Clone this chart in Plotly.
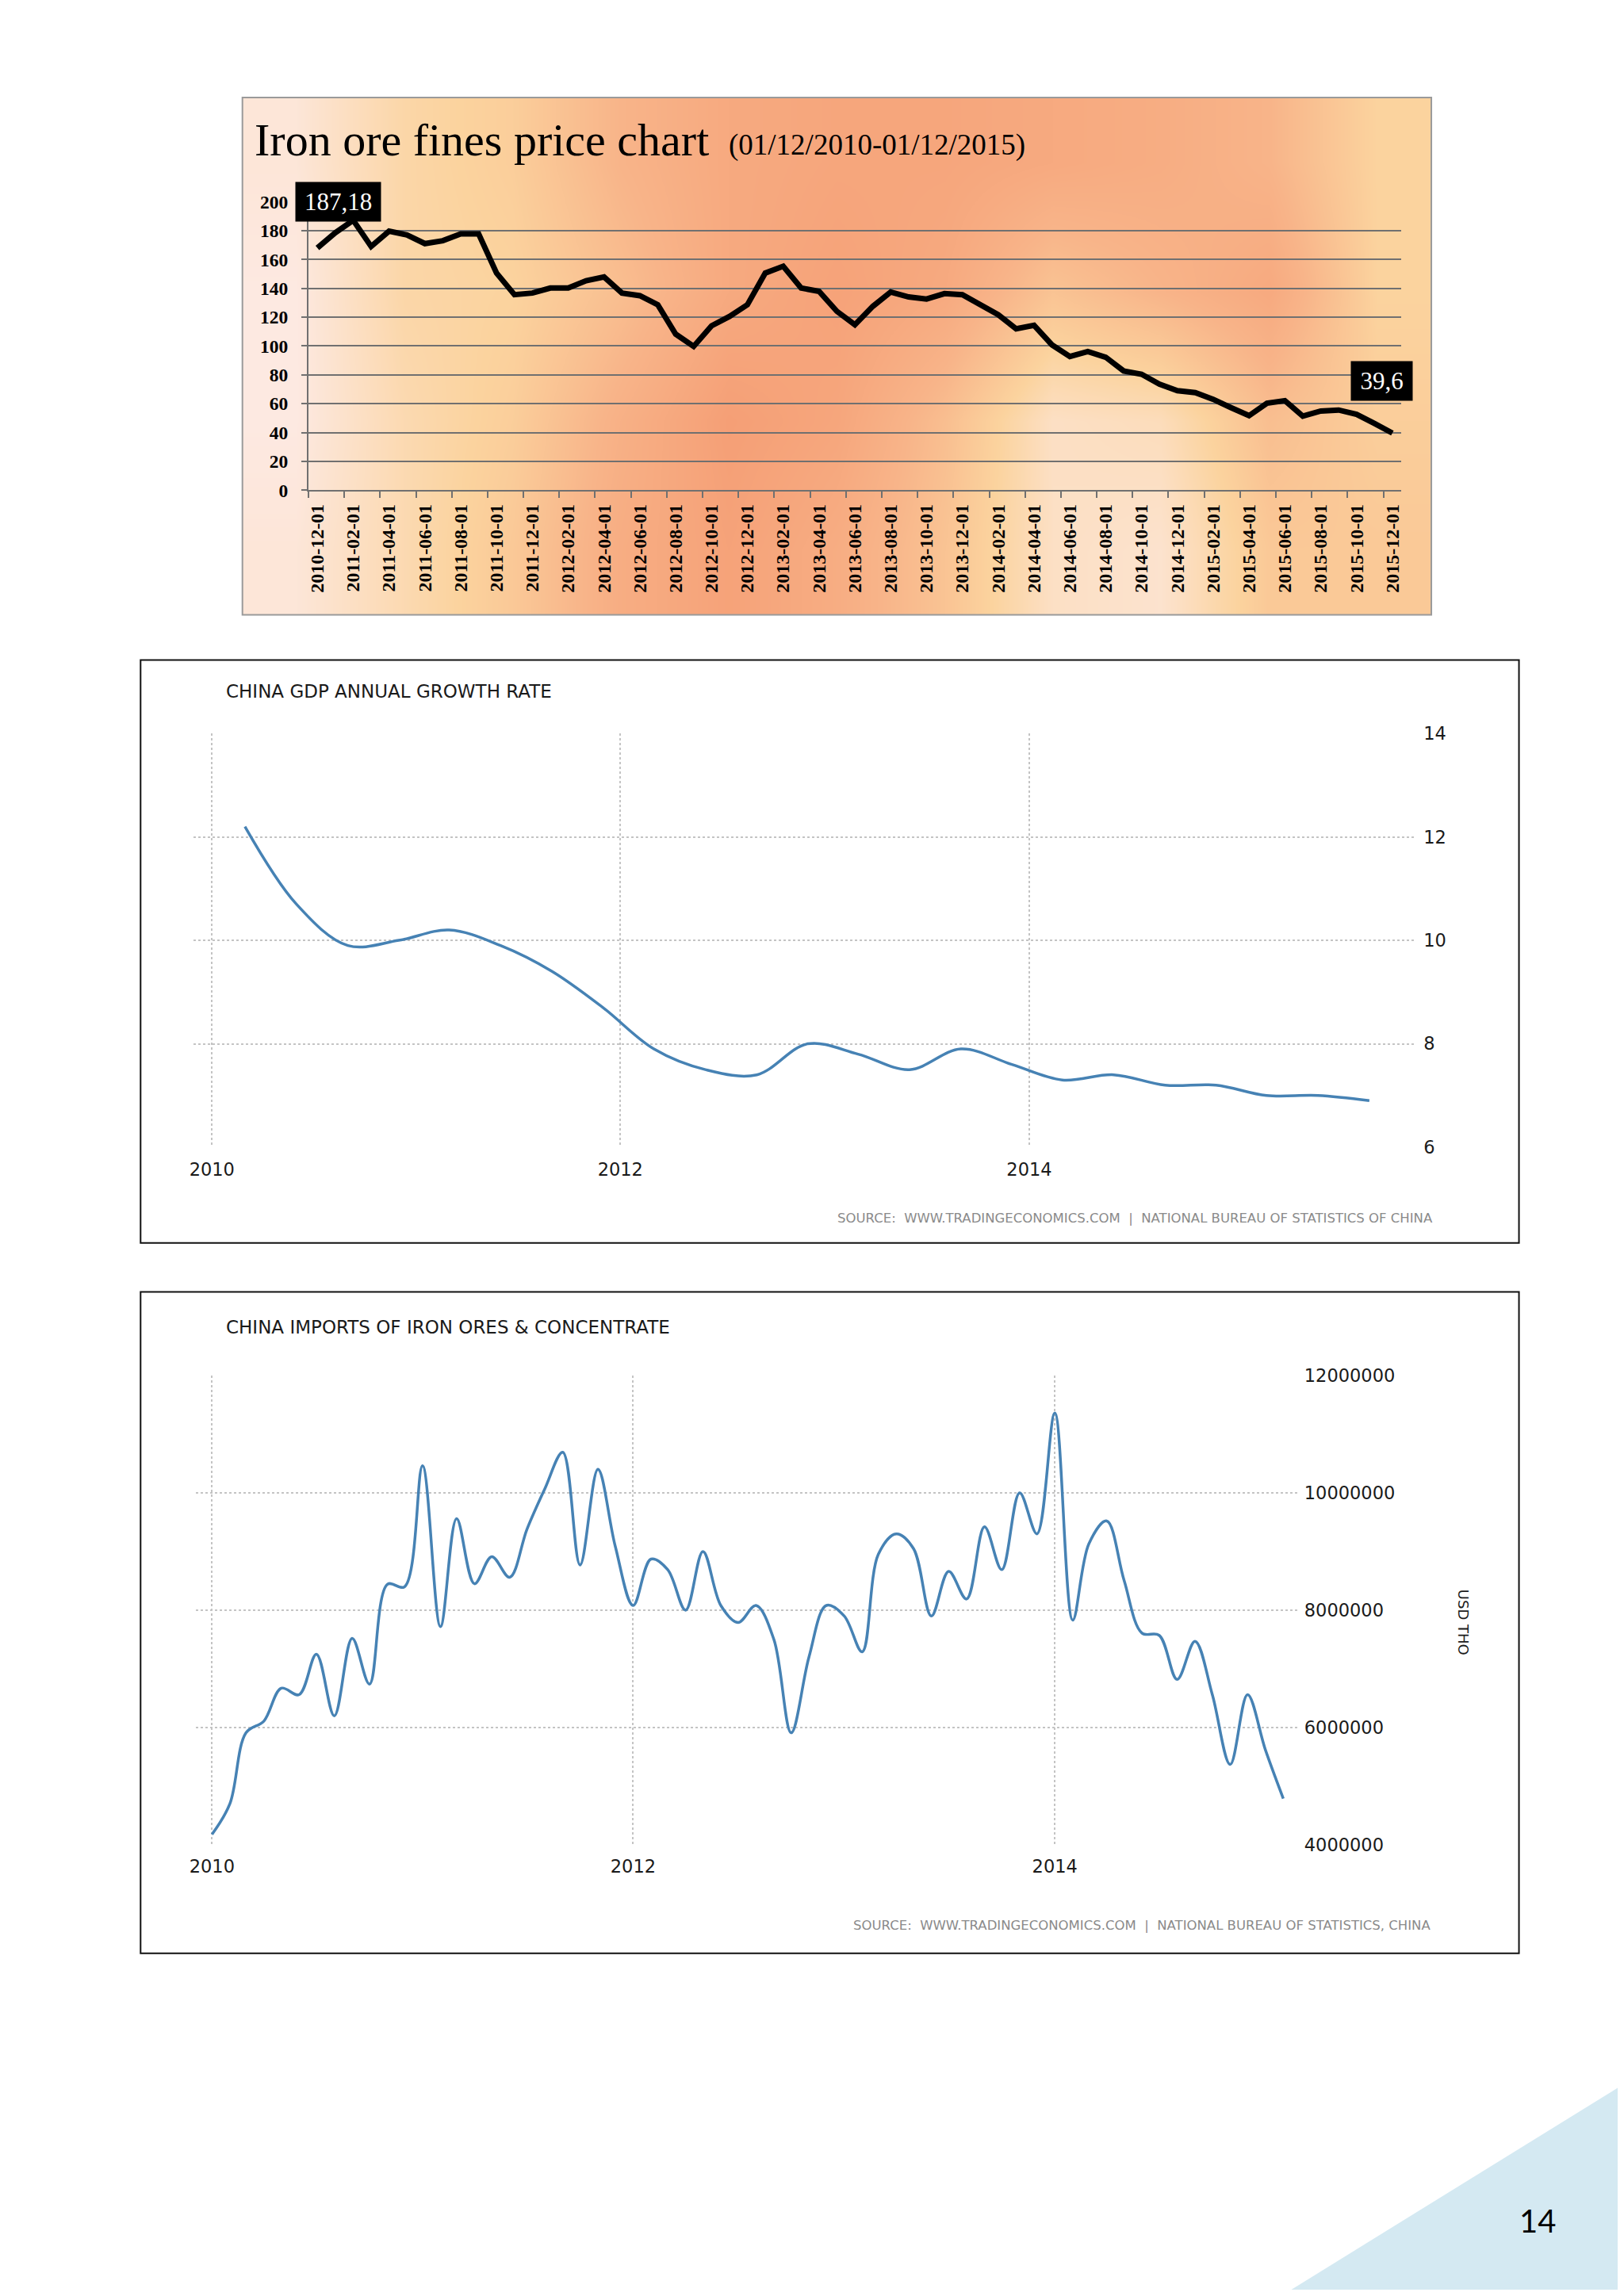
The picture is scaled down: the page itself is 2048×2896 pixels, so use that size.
import pandas as pd
import plotly.graph_objects as go

W, H = 2048, 2896
PAGE_PAD = 8  # default body margin of the page plotly writes
FIG_W, FIG_H = W - 2 * PAGE_PAD, H - 2 * PAGE_PAD
Y_SQUASH = 0.99323  # the photographed page comes out slightly squashed vertically

# --- data: iron ore fines price (monthly, USD/t) ---
ore_months = [d.strftime("%Y-%m-%d") for d in pd.date_range("2010-12-01", "2015-12-01", freq="MS")]
ore_price = [
    168, 178.5, 187.18, 169, 179.6, 177, 171, 173, 177.7, 177.7,
    150.6, 135.6, 136.7, 140.2, 140.2, 145.3, 147.9, 136.7, 134.9, 128.6,
    108.2, 99.7, 114, 120.5, 128.6, 150.6, 155.3, 140.2, 137.9, 124,
    114.7, 127.5, 137.4, 134, 132.6, 136.3, 135.6, 128.2, 121.7, 111.9,
    114.3, 100.8, 92.7, 96.2, 92.2, 82.7, 80.4, 73.5, 69, 67.7,
    63, 57.2, 51.7, 60.3, 62.1, 51.4, 54.9, 55.6, 52.6, 46.3, 39.6,
]
ore_max_label = "187,18"
ore_last_label = "39,6"

# --- data: China GDP annual growth rate (quarterly, %) ---
gdp_dates = pd.date_range("2010-03-01", "2015-09-01", freq="3MS")
gdp_rate = [12.2, 10.7, 9.9, 10.0, 10.2, 9.9, 9.4, 8.7, 7.9, 7.5, 7.4, 8.0,
            7.8, 7.5, 7.9, 7.6, 7.3, 7.4, 7.2, 7.2, 7.0, 7.0, 6.9]

# --- data: China imports of iron ores & concentrate (monthly, USD THO) ---
imp_dates = pd.date_range("2010-01-01", "2015-02-01", freq="MS")
imp_value = [
    4180000, 4700000, 5910000, 6110000, 6670000, 6560000, 7250000, 6200000, 7520000, 6740000,
    8440000, 8400000, 10460000, 7720000, 9560000, 8450000, 8910000, 8560000, 9380000, 10070000,
    10690000, 8770000, 10400000, 9090000, 8080000, 8870000, 8690000, 8000000, 9000000, 8080000,
    7790000, 8080000, 7500000, 5910000, 7210000, 8080000, 7900000, 7290000, 8950000, 9300000,
    9050000, 7900000, 8660000, 8190000, 9420000, 8690000, 10000000, 9300000, 11360000, 7830000,
    9130000, 9520000, 8510000, 7610000, 7570000, 6820000, 7470000, 6560000, 5370000, 6560000,
    5620000, 4790000,
]

year_ticks = ["2010-01-01", "2012-01-01", "2014-01-01"]
year_labels = ["2010", "2012", "2014"]


# page pixel -> paper fraction
def px(x):
    return (x - PAGE_PAD) / FIG_W


def py(y):
    y = H / 2 + (y - H / 2) / Y_SQUASH
    return 1 - (y - PAGE_PAD) / FIG_H


def py1(y):  # price chart block
    return py(y - 4)


def py3(y):  # imports chart block
    return py(y + 3)


SERIF = "Liberation Serif"
SANS = "DejaVu Sans"
BLUE = "#4682B4"
INK = "#1a1a1a"

# warm background wash behind the price chart (style only)
bg_scale = [[0, "#fdeceb"], [0.4, "#fbd39e"], [0.7, "#f8b489"], [1, "#f59f76"]]
bg_z = [
    [0.10, 0.35, 0.45, 0.70, 0.85, 0.90, 0.90, 0.85, 0.80, 0.70, 0.40],
    [0.05, 0.35, 0.40, 0.60, 0.85, 0.95, 0.85, 0.55, 0.70, 0.85, 0.40],
    [0.05, 0.30, 0.45, 0.75, 1.00, 0.90, 0.60, 0.20, 0.25, 0.60, 0.45],
    [0.10, 0.30, 0.50, 0.80, 0.95, 0.80, 0.55, 0.20, 0.15, 0.50, 0.50],
]

fig = go.Figure()

fig.add_trace(go.Heatmap(
    z=bg_z, colorscale=bg_scale, zmin=0, zmax=1, zsmooth="best",
    showscale=False, hoverinfo="skip", xaxis="x", yaxis="y",
))

# --- chart 1: iron ore price ---
fig.add_trace(go.Scatter(
    x=ore_months, y=ore_price, mode="lines",
    line=dict(color="black", width=7),
    xaxis="x2", yaxis="y2", showlegend=False,
))

# --- chart 2: GDP growth ---
fig.add_trace(go.Scatter(
    x=gdp_dates, y=gdp_rate, mode="lines",
    line=dict(color=BLUE, width=3.5, shape="spline"),
    xaxis="x3", yaxis="y3", showlegend=False,
))

# --- chart 3: imports ---
fig.add_trace(go.Scatter(
    x=imp_dates, y=imp_value, mode="lines",
    line=dict(color=BLUE, width=3.5, shape="spline"),
    xaxis="x4", yaxis="y4", showlegend=False,
))

dot_grid = dict(showgrid=True, gridcolor="#c4c4c4", gridwidth=1.5, griddash="dot",
                zeroline=False, showline=False, ticks="")
te_font = dict(family=SANS, size=22.5, color=INK)

fig.update_layout(
    width=FIG_W, height=FIG_H,
    margin=dict(l=0, r=0, t=0, b=0),
    paper_bgcolor="white",
    plot_bgcolor="rgba(0,0,0,0)",
    showlegend=False,
    xaxis=dict(domain=[px(299), px(1805)], visible=False, range=[-0.5, 10.5], fixedrange=True),
    yaxis=dict(domain=[py1(778), py1(124)], visible=False, range=[3.5, -0.5], fixedrange=True),
    xaxis2=dict(
        domain=[px(382.6), px(1767)], anchor="y2", type="category",
        range=[-0.5, 60.5], tickmode="linear", tick0=0, dtick=2,
        tickson="boundaries", ticks="outside", ticklen=8, tickwidth=2, tickcolor="#707070",
        showgrid=False, showline=True, linecolor="#707070", linewidth=2,
        tickangle=-90, ticklabelstandoff=6,
        tickfont=dict(family=SERIF, size=24, color="black", weight="bold"),
    ),
    yaxis2=dict(
        domain=[py1(620.4), py1(255.8)], anchor="x2", range=[0, 200], dtick=20,
        showgrid=True, gridcolor="#707070", gridwidth=2, zeroline=False,
        showline=True, linecolor="#707070", linewidth=2,
        ticks="outside", ticklen=7, tickwidth=2, tickcolor="#707070", ticklabelstandoff=12,
        tickfont=dict(family=SERIF, size=23.5, color="black", weight="bold"),
    ),
    xaxis3=dict(
        domain=[px(237), px(1786)], anchor="y3", type="date",
        range=["2009-11-29", "2015-11-24"], tickmode="array",
        tickvals=year_ticks, ticktext=year_labels, ticklabelstandoff=12,
        tickfont=te_font, **dot_grid,
    ),
    yaxis3=dict(
        domain=[py(1447), py(924)], anchor="x3", side="right", range=[6, 14], dtick=2,
        ticklabelstandoff=8, tickfont=te_font, **dot_grid,
    ),
    xaxis4=dict(
        domain=[px(240), px(1635)], anchor="y4", type="date",
        range=["2009-12-04", "2015-02-25"], tickmode="array",
        tickvals=year_ticks, ticktext=year_labels, ticklabelstandoff=12,
        tickfont=te_font, **dot_grid,
    ),
    yaxis4=dict(
        domain=[py3(2326), py3(1732.5)], anchor="x4", side="right",
        range=[4000000, 12000000], dtick=2000000, tickformat="d",
        ticklabelstandoff=8, tickfont=te_font, **dot_grid,
    ),
)

# frames and page decoration
fig.add_shape(type="rect", xref="paper", yref="paper",
              x0=px(299), x1=px(1805), y0=py1(778), y1=py1(124),
              line=dict(color="#9a9a9a", width=2))
fig.add_shape(type="rect", xref="paper", yref="paper",
              x0=px(170), x1=px(1916), y0=py(1568), y1=py(831),
              line=dict(color="#111", width=2))
fig.add_shape(type="rect", xref="paper", yref="paper",
              x0=px(170), x1=px(1916), y0=py3(2463), y1=py3(1627),
              line=dict(color="#111", width=2))
fig.add_shape(type="path", xref="paper", yref="paper",
              path=f"M {px(1620)} {py(2896)} L {px(2048)} {py(2632)} L {px(2048)} {py(2896)} Z",
              fillcolor="#d4e9f2", line=dict(width=0), layer="below")

# chart 1 texts
fig.add_annotation(xref="paper", yref="paper", x=px(312), y=py1(212),
                   xanchor="left", yanchor="bottom", showarrow=False,
                   text="Iron ore fines price chart",
                   font=dict(family=SERIF, size=58, color="black"))
fig.add_annotation(xref="paper", yref="paper", x=px(913), y=py1(207),
                   xanchor="left", yanchor="bottom", showarrow=False,
                   text="(01/12/2010-01/12/2015)",
                   font=dict(family=SERIF, size=37, color="black"))
fig.add_annotation(xref="x2", yref="y2", x=ore_months[2], y=ore_price[2],
                   text=ore_max_label, showarrow=False, xanchor="center", yanchor="bottom",
                   xshift=-19, yshift=-2.5, bgcolor="black", borderpad=6, width=95, height=37,
                   font=dict(family=SERIF, size=31, color="white"))
fig.add_annotation(xref="x2", yref="y2", x=ore_months[-1], y=ore_price[-1],
                   text=ore_last_label, showarrow=False, xanchor="center", yanchor="bottom",
                   xshift=-13.5, yshift=40, bgcolor="black", borderpad=6, width=65, height=37,
                   font=dict(family=SERIF, size=31, color="white"))

# charts 2 and 3 texts
fig.add_annotation(xref="paper", yref="paper", x=px(276), y=py(871),
                   xanchor="left", yanchor="middle", showarrow=False,
                   text="CHINA GDP ANNUAL GROWTH RATE",
                   font=dict(family=SANS, size=23, color=INK))
fig.add_annotation(xref="paper", yref="paper", x=px(1809), y=py(1537),
                   xanchor="right", yanchor="middle", showarrow=False,
                   text="SOURCE:  WWW.TRADINGECONOMICS.COM  |  NATIONAL BUREAU OF STATISTICS OF CHINA",
                   font=dict(family=SANS, size=16.5, color="#8a8a8a"))
fig.add_annotation(xref="paper", yref="paper", x=px(276), y=py3(1672),
                   xanchor="left", yanchor="middle", showarrow=False,
                   text="CHINA IMPORTS OF IRON ORES &amp; CONCENTRATE",
                   font=dict(family=SANS, size=23, color=INK))
fig.add_annotation(xref="paper", yref="paper", x=px(1806), y=py3(2428),
                   xanchor="right", yanchor="middle", showarrow=False,
                   text="SOURCE:  WWW.TRADINGECONOMICS.COM  |  NATIONAL BUREAU OF STATISTICS, CHINA",
                   font=dict(family=SANS, size=16.5, color="#8a8a8a"))
fig.add_annotation(xref="paper", yref="paper", x=px(1846), y=py3(2045),
                   xanchor="center", yanchor="middle", showarrow=False, textangle=90,
                   text="USD THO", font=dict(family=SANS, size=18, color=INK))

fig.add_annotation(xref="paper", yref="paper", x=px(1940), y=py(2804),
                   xanchor="center", yanchor="middle", showarrow=False,
                   text="14", font=dict(family="Lato", size=40, color="black"))

fig.write_html("out.html", config={"displayModeBar": False})
